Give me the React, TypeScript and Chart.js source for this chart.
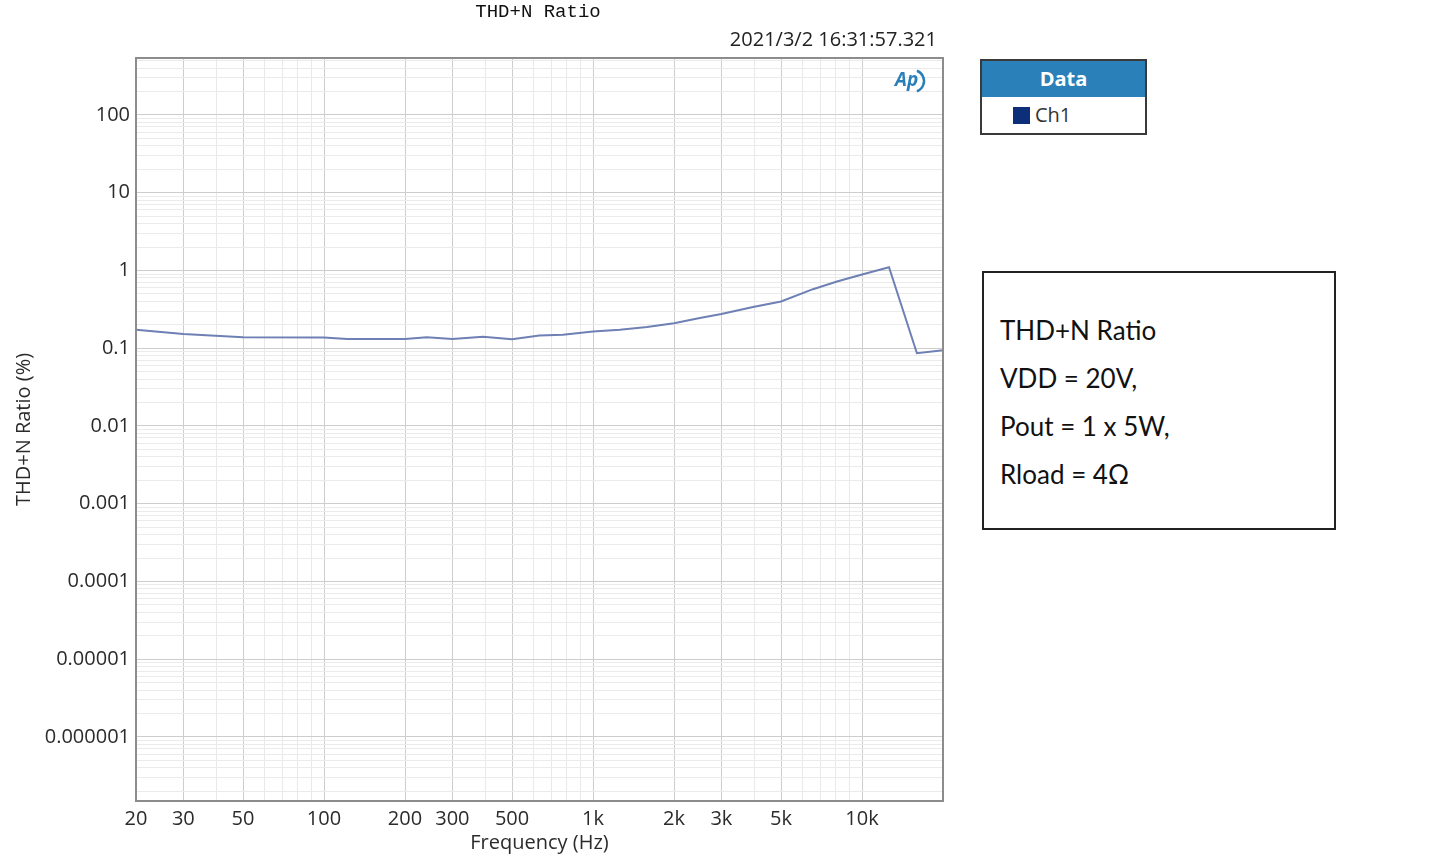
import React, { useEffect, useRef } from "react";
import { Chart, registerables } from "chart.js";

Chart.register(...registerables);

// ---- data ----
const freqs = [20, 30, 50, 100, 122, 200, 241, 300, 390, 500, 632, 773, 1000, 1259, 1588, 2000, 2495, 3000, 3934, 5000, 6572, 8072, 10080, 12600, 16000, 20000];
const thdn = [0.173, 0.152, 0.138, 0.137, 0.131, 0.131, 0.138, 0.131, 0.14, 0.13, 0.146, 0.149, 0.164, 0.173, 0.187, 0.21, 0.244, 0.275, 0.338, 0.398, 0.574, 0.719, 0.894, 1.1, 0.086, 0.094];

const xTickValues = [20, 30, 40, 50, 60, 70, 80, 90, 100, 200, 300, 400, 500, 600, 700, 800, 900, 1000, 2000, 3000, 4000, 5000, 6000, 7000, 8000, 9000, 10000, 20000];
const xLabelValues = [20, 30, 50, 100, 200, 300, 500, 1000, 2000, 3000, 5000, 10000];
const xLabelTexts = ["20", "30", "50", "100", "200", "300", "500", "1k", "2k", "3k", "5k", "10k"];

const yDecades = [1e-7, 1e-6, 1e-5, 1e-4, 1e-3, 1e-2, 1e-1, 1, 10, 100];
const yLabelTexts = ["", "0.000001", "0.00001", "0.0001", "0.001", "0.01", "0.1", "1", "10", "100"];
const yMinorSteps = [2, 3, 4, 5, 6, 7, 8, 9];

const X_MIN = 20;
const X_MAX = 20000;
const Y_MIN = 1.5e-7;
const Y_MAX = 540;

const near = (a: number, b: number) => Math.abs(a - b) <= Math.abs(b) * 1e-6;

const yTickValues: number[] = [];
yDecades.forEach((d) => {
  yTickValues.push(d);
  yMinorSteps.forEach((m) => yTickValues.push(+(d * m).toPrecision(6)));
});

const TICK_FONT = '"Open Sans", "Noto Sans", sans-serif';

const framePlugin = {
  id: "frameAndLogo",
  afterDraw(chart: any) {
    const { ctx, chartArea } = chart;
    const { left, top, right, bottom } = chartArea;
    ctx.save();
    ctx.strokeStyle = "#8c8c8c";
    ctx.lineWidth = 2;
    ctx.strokeRect(left, top, right - left, bottom - top);
    // AP logo
    ctx.fillStyle = "#2a7fb8";
    ctx.strokeStyle = "#2a7fb8";
    ctx.font = 'italic bold 19px "Open Sans", sans-serif';
    ctx.textBaseline = "middle";
    ctx.textAlign = "left";
    ctx.fillText("Ap", right - 48, top + 23);
    ctx.lineWidth = 2.5;
    ctx.beginPath();
    ctx.arc(right - 30, top + 23, 11, -Math.PI / 2.6, Math.PI / 2.6);
    ctx.stroke();
    ctx.restore();
  },
};

export default function App() {
  const canvasRef = useRef<HTMLCanvasElement | null>(null);

  useEffect(() => {
    if (!canvasRef.current) return;
    const chart = new Chart(canvasRef.current, {
      type: "line",
      data: {
        datasets: [
          {
            label: "Ch1",
            data: freqs.map((f, i) => ({ x: f, y: thdn[i] })),
            borderColor: "#6e80b4",
            borderWidth: 2,
            pointRadius: 0,
            tension: 0,
            fill: false,
          },
        ],
      },
      options: {
        animation: false,
        responsive: false,
        maintainAspectRatio: false,
        layout: { padding: { left: 0, top: 58, right: 497, bottom: 0 } },
        plugins: {
          legend: { display: false },
          tooltip: { enabled: false },
          title: { display: false },
        },
        scales: {
          x: {
            type: "logarithmic",
            min: X_MIN,
            max: X_MAX,
            afterBuildTicks: (scale: any) => {
              scale.ticks = xTickValues.map((v) => ({ value: v }));
            },
            afterFit: (scale: any) => {
              scale.height = 59;
            },
            ticks: {
              autoSkip: false,
              maxRotation: 0,
              minRotation: 0,
              padding: 6,
              color: "#2b2b2b",
              font: { family: TICK_FONT, size: 20 },
              callback: (value: any) => {
                const idx = xLabelValues.findIndex((v) => near(v, Number(value)));
                return idx >= 0 ? xLabelTexts[idx] : "";
              },
            },
            grid: {
              drawTicks: false,
              lineWidth: 1,
              color: (ctx: any) => {
                const v = ctx.tick ? ctx.tick.value : 0;
                return xLabelValues.some((m) => near(m, v)) ? "#cdcdcd" : "#e9e9e9";
              },
            },
            border: { display: false },
            title: {
              display: true,
              text: "Frequency (Hz)",
              color: "#2b2b2b",
              font: { family: TICK_FONT, size: 20 },
              padding: { top: 0, bottom: 5 },
            },
          },
          y: {
            type: "logarithmic",
            min: Y_MIN,
            max: Y_MAX,
            afterBuildTicks: (scale: any) => {
              scale.ticks = yTickValues
                .filter((v) => v >= Y_MIN && v <= Y_MAX)
                .map((v) => ({ value: v }));
            },
            afterFit: (scale: any) => {
              scale.width = 136;
            },
            ticks: {
              autoSkip: false,
              padding: 6,
              color: "#2b2b2b",
              font: { family: TICK_FONT, size: 20 },
              callback: (value: any) => {
                const idx = yDecades.findIndex((v) => near(v, Number(value)));
                return idx >= 0 ? yLabelTexts[idx] : "";
              },
            },
            grid: {
              drawTicks: false,
              lineWidth: 1,
              color: (ctx: any) => {
                const v = ctx.tick ? ctx.tick.value : 0;
                return yDecades.some((m) => near(m, v)) ? "#cdcdcd" : "#ebebeb";
              },
            },
            border: { display: false },
            title: {
              display: true,
              text: "THD+N Ratio (%)",
              color: "#2b2b2b",
              font: { family: TICK_FONT, size: 20 },
              padding: { top: 12, bottom: 0 },
            },
          },
        },
      },
      plugins: [framePlugin],
    } as any);
    return () => chart.destroy();
  }, []);

  return (
    <div style={{ position: "fixed", left: 0, top: 0, width: 1440, height: 860, background: "#fff", overflow: "hidden" }}>
      <canvas ref={canvasRef} width={1440} height={860} style={{ position: "absolute", left: 0, top: 0, width: 1440, height: 860 }} />
      <div
        style={{
          position: "absolute",
          left: 0,
          top: 0,
          width: 1076,
          textAlign: "center",
          fontFamily: '"Liberation Mono", "DejaVu Sans Mono", monospace',
          fontSize: 19,
          lineHeight: "24px",
          color: "#111",
        }}
      >
        THD+N Ratio
      </div>
      <div
        style={{
          position: "absolute",
          right: 1440 - 937,
          top: 25,
          fontFamily: TICK_FONT,
          fontSize: 20,
          lineHeight: "28px",
          color: "#222",
          whiteSpace: "nowrap",
        }}
      >
        2021/3/2 16:31:57.321
      </div>
      {/* legend box */}
      <div
        style={{
          position: "absolute",
          left: 980,
          top: 59,
          width: 163,
          height: 72,
          border: "2px solid #3a3a3a",
          background: "#fff",
          fontFamily: TICK_FONT,
        }}
      >
        <div
          style={{
            height: 36,
            background: "#2a80b9",
            color: "#fff",
            fontWeight: 700,
            fontSize: 20,
            lineHeight: "36px",
            textAlign: "center",
          }}
        >
          Data
        </div>
        <div style={{ position: "absolute", left: 31, top: 46, width: 17, height: 17, background: "#0d2f7a" }} />
        <div style={{ position: "absolute", left: 53, top: 39, fontSize: 20, lineHeight: "30px", color: "#333" }}>Ch1</div>
      </div>
      {/* annotation box */}
      <div
        style={{
          position: "absolute",
          left: 982,
          top: 271,
          width: 350,
          height: 255,
          border: "2px solid #222",
          background: "#fff",
          fontFamily: 'Lato, "Open Sans", sans-serif',
          fontSize: 26,
          color: "#111",
        }}
      >
        {["THD+N Ratio", "VDD = 20V,", "Pout = 1 x 5W,", "Rload = 4Ω"].map((t, i) => (
          <div key={i} style={{ position: "absolute", left: 16, top: 40 + i * 48, lineHeight: "34px", whiteSpace: "nowrap" }}>
            {t}
          </div>
        ))}
      </div>
    </div>
  );
}
